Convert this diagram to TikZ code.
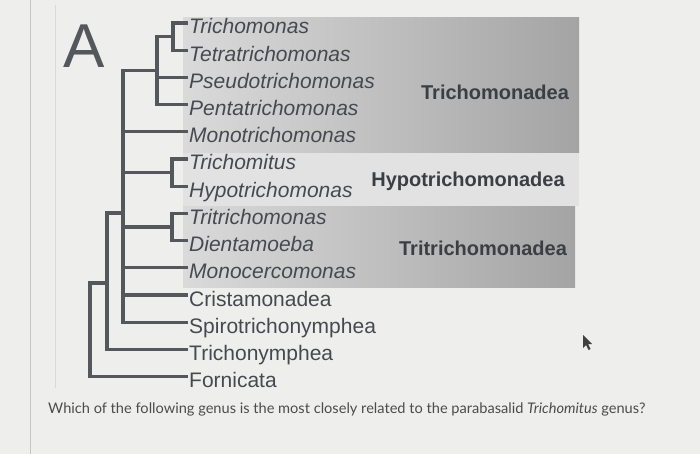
\documentclass[tikz,border=0pt]{standalone}
\usepackage{fontspec}
\setmainfont{Liberation Sans}
\newfontfamily\qfont{Lato}
\usetikzlibrary{calc}
\definecolor{bg}{HTML}{EEEEEC}
\definecolor{branch}{HTML}{54585D}
\definecolor{boxdark}{HTML}{A4A4A4}
\definecolor{boxlight}{HTML}{DADADA}
\definecolor{band}{HTML}{E2E2E2}
\definecolor{ink}{HTML}{464A50}

\begin{document}
\begin{tikzpicture}[x=1pt, y=-1pt,
  branch/.style={draw=branch, line width=3.2pt, line join=miter},
  genus/.style={anchor=base west, inner sep=0pt, text=ink, font=\fontsize{21}{24}\selectfont\itshape},
  clade/.style={anchor=base west, inner sep=0pt, text=ink, font=\fontsize{21}{24}\selectfont},
  group/.style={text=ink!85!black, font=\fontsize{20}{23}\selectfont\bfseries}]
% page
\fill[bg] (0,0) rectangle (700,454);
\useasboundingbox (0,0) rectangle (700,454);
\draw[gray!45, line width=0.8pt] (30,0) -- (30,454);
\draw[gray!30, line width=0.8pt] (55,5) -- (55,388);

% shaded groups
\shade[left color=boxlight, right color=boxdark] (183,18) rectangle (579,153);
\fill[band] (183,153) rectangle (579,206);
\shade[left color=boxlight, right color=boxdark] (183,206) rectangle (575,287);

\node[group] (trich) at (495,92) {Trichomonadea};
\node[group] (hypo) at (468,181) {Hypotrichomonadea};
\node[group] (tritr) at (483,248) {Tritrichomonadea};

\node[text=branch, font=\fontsize{62}{62}\selectfont] (panel) at (84,46) {A};

% leaves
\foreach \name/\kind [count=\i from 0] in {Trichomonas/genus, Tetratrichomonas/genus,
    Pseudotrichomonas/genus, Pentatrichomonas/genus, Monotrichomonas/genus,
    Trichomitus/genus, Hypotrichomonas/genus, Tritrichomonas/genus, Dientamoeba/genus,
    Monocercomonas/genus, Cristamonadea/clade, Spirotrichonymphea/clade,
    Trichonymphea/clade, Fornicata/clade}{
  \coordinate (l\i) at (188,23+27.2*\i);
  \node[\kind] (t\i) at (189,34+27.2*\i) {\name};
}

% inner nodes
\coordinate (n1) at (173,36.6);
\coordinate (n2) at (157,70.6);
\coordinate (n3) at (123,213);
\coordinate (n4) at (172,172.6);
\coordinate (n5) at (172,227);
\coordinate (n6) at (107,283);
\coordinate (n7) at (90,283);

\draw[branch] (l0) -| (n1) |- (l1);
\draw[branch] (n1) -| (n2) |- (l3);
\draw[branch] (n2 |- l2) -- (l2);
\draw[branch] (l5) -| (n4) |- (l6);
\draw[branch] (l7) -| (n5) |- (l8);
\draw[branch] (n2) -| (n3) |- (l11);
\foreach \c in {l4,n4,n5,l9,l10}
  \draw[branch] (n3 |- \c) -- (\c);
\draw[branch] (l12) -| (n6) |- (n3);
\draw[branch] (l13) -| (n7) -- (n6);

% pointer
\fill[black!75] (583,335) -- (583,348) -- (586,345) -- (588.5,350) -- (590.5,349)
  -- (588,344) -- (592,344) -- cycle;

\node[anchor=base west, inner sep=0pt, text=black!70,
  font=\qfont\fontsize{14.6}{17}\selectfont] (question) at (48,413)
  {Which of the following genus is the most closely related to the parabasalid \textit{Trichomitus} genus?};
\end{tikzpicture}
\end{document}
